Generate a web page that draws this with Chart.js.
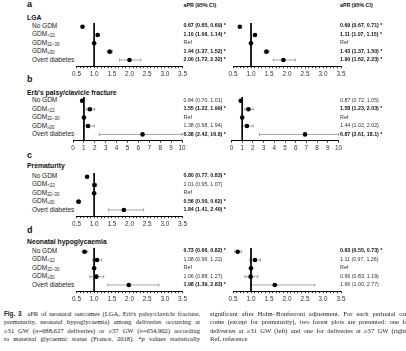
<!DOCTYPE html>
<html>
<head>
<meta charset="utf-8">
<script src="https://cdn.jsdelivr.net/npm/chart.js@4.4.0/dist/chart.umd.min.js"></script>
<style>
  html, body { margin: 0; padding: 0; background: #fff; }
  #fig { position: relative; width: 406px; height: 351px; overflow: hidden; font-family: 'Liberation Sans', Arial, sans-serif; color: #111; }
  .t { position: absolute; white-space: nowrap; }
  canvas { position: absolute; }
  sub { font-size: 0.68em; vertical-align: -0.3em; line-height: 0; }
  .cap { position: absolute; font-family: 'Liberation Serif', 'Times New Roman', serif; font-size: 6.6px; line-height: 8.5px; height: 8.5px; overflow: hidden; text-align: justify; text-align-last: justify; color: #222; }
  .cap b { font-family: 'Liberation Sans', Arial, sans-serif; font-size: 6.3px; }
</style>
</head>
<body>
<div id="fig"></div>
<script>
// row and panel labels
const rowLabels = ['No GDM', 'GDM<sub>&lt;22</sub>', 'GDM<sub>22–30</sub>', 'GDM<sub>≥30</sub>', 'Overt diabetes'];
const panelLetters = ['a', 'b', 'c', 'd'];
const outcomes = ['LGA', "Erb's palsy/clavicle fracture", 'Prematurity', 'Neonatal hypoglycaemia'];
const columnHeader = 'aPR (95% CI)';

// axis ranges and ticks
const ratioRange = [0.5, 3.5];
const ratioStep = 0.1;
const ratioLabelEvery = 0.5;
const erbRange = [0, 10];
const erbStep = 1;
const erbLabelEvery = 1;

// LGA, >=31 GW and >=37 GW
const lga31Est = [0.67, 1.10, 1.00, 1.44, 2.00];
const lga31Lo  = [0.65, 1.06, null, 1.37, 1.72];
const lga31Hi  = [0.69, 1.14, null, 1.52, 2.32];
const lga31Sig = [1, 1, 0, 1, 1];
const lga37Est = [0.69, 1.11, 1.00, 1.43, 1.90];
const lga37Lo  = [0.67, 1.07, null, 1.37, 1.62];
const lga37Hi  = [0.71, 1.15, null, 1.50, 2.23];
const lga37Sig = [1, 1, 0, 1, 1];

// Erb's palsy / clavicle fracture
const erb31Est = [0.84, 1.55, 1.00, 1.38, 6.38];
const erb31Lo  = [0.70, 1.22, null, 0.98, 2.42];
const erb31Hi  = [1.01, 1.99, null, 1.94, 16.8];
const erb31Sig = [0, 1, 0, 0, 1];
const erb37Est = [0.87, 1.58, 1.00, 1.44, 6.87];
const erb37Lo  = [0.72, 1.23, null, 1.02, 2.61];
const erb37Hi  = [1.05, 2.03, null, 2.02, 18.1];
const erb37Sig = [0, 1, 0, 0, 1];

// Prematurity (only one plot)
const pre31Est = [0.80, 1.01, 1.00, 0.56, 1.84];
const pre31Lo  = [0.77, 0.95, null, 0.50, 1.41];
const pre31Hi  = [0.83, 1.07, null, 0.62, 2.40];
const pre31Sig = [1, 0, 0, 1, 1];

// Neonatal hypoglycaemia
const hyp31Est = [0.73, 1.08, 1.00, 1.06, 1.98];
const hyp31Lo  = [0.66, 0.96, null, 0.88, 1.39];
const hyp31Hi  = [0.82, 1.22, null, 1.27, 2.83];
const hyp31Sig = [1, 0, 0, 0, 1];
const hyp37Est = [0.63, 1.11, 1.00, 0.99, 1.66];
const hyp37Lo  = [0.55, 0.97, null, 0.83, 1.00];
const hyp37Hi  = [0.73, 1.26, null, 1.19, 2.77];
const hyp37Sig = [1, 0, 0, 0, 0];

const captionLeft = [
  "<b>Fig. 3</b>&nbsp; aPR of neonatal outcomes (LGA, Erb's palsy/clavicle fracture,",
  "prematurity, neonatal hypoglycaemia) among deliveries occurring at",
  "≥31 GW (<i>n</i>=688,627 deliveries) or ≥37 GW (<i>n</i>=654,902) according",
  "to maternal glycaemic status (France, 2018). *<i>p</i> values statistically"
];
const captionRight = [
  "significant after Holm–Bonferroni adjustment. For each perinatal out-",
  "come (except for prematurity), two forest plots are presented: one for",
  "deliveries at ≥31 GW (left) and one for deliveries at ≥37 GW (right).",
  "Ref, reference"
];

// layout
const fig = document.getElementById('fig');
const FONT = "'Liberation Sans', Arial, sans-serif";
const Y_MIN = -0.45, Y_MAX = 4.75, ROW = 8.5, AXIS_H = 14;
const panelTop = [22, 96.5, 172, 247];
const letterY = [4, 79.5, 155.5, 230];
const titleY = [18.5, 93, 166.7, 242.3];

function text(x, y, html, size, bold, color) {
  const d = document.createElement('div');
  d.className = 't';
  d.style.left = x + 'px';
  d.style.top = (y - size / 2) + 'px';
  d.style.fontSize = size + 'px';
  d.style.lineHeight = size + 'px';
  d.style.fontWeight = bold ? 'bold' : 'normal';
  if (color) d.style.color = color;
  d.innerHTML = html;
  fig.appendChild(d);
}

function fmt(v) { return v >= 10 ? v.toFixed(1) : v.toFixed(2); }

const ciBars = {
  id: 'ciBars',
  beforeDatasetsDraw(chart) {
    const ds = chart.data.datasets[0];
    const { ctx } = chart;
    const x = chart.scales.x, y = chart.scales.y;
    ctx.save();
    ctx.strokeStyle = '#8c8c8c';
    ctx.lineWidth = 0.8;
    ds.lo.forEach((l, i) => {
      if (l == null) return;
      const x1 = x.getPixelForValue(Math.max(l, x.min));
      const x2 = x.getPixelForValue(Math.min(ds.hi[i], x.max));
      const yp = y.getPixelForValue(i);
      ctx.beginPath();
      ctx.moveTo(x1, yp); ctx.lineTo(x2, yp);
      ctx.moveTo(x1, yp - 1.6); ctx.lineTo(x1, yp + 1.6);
      ctx.moveTo(x2, yp - 1.6); ctx.lineTo(x2, yp + 1.6);
      ctx.stroke();
    });
    ctx.restore();
  }
};

function forest(o) {
  const B = o.T + (Y_MAX - Y_MIN) * ROW;
  const left = Math.floor(o.xL) - 12;
  const top = Math.floor(o.T) - 3;
  const w = Math.ceil(o.xR) + 12 - left;
  const h = Math.ceil(B) + AXIS_H + 1 - top;
  const padT = o.T - top;
  const cv = document.createElement('canvas');
  cv.width = w; cv.height = h;
  cv.style.left = left + 'px'; cv.style.top = top + 'px';
  cv.style.width = w + 'px'; cv.style.height = h + 'px';
  fig.appendChild(cv);

  new Chart(cv, {
    type: 'scatter',
    data: {
      datasets: [
        {
          data: o.est.map((v, i) => ({ x: v, y: i })),
          lo: o.lo, hi: o.hi,
          pointRadius: 2.3,
          pointBackgroundColor: '#000',
          pointBorderWidth: 0,
          clip: false
        },
        {
          data: [{ x: 1, y: Y_MIN }, { x: 1, y: Y_MAX }],
          showLine: true,
          borderColor: '#000',
          borderWidth: 1,
          pointRadius: 0
        }
      ]
    },
    options: {
      responsive: false,
      animation: false,
      events: [],
      layout: {
        padding: { left: o.xL - left, right: left + w - o.xR, top: padT, bottom: h - padT - AXIS_H - (B - o.T) }
      },
      plugins: { legend: { display: false }, tooltip: { enabled: false } },
      scales: {
        x: {
          type: 'linear',
          min: o.range[0],
          max: o.range[1],
          afterFit: s => { s.height = AXIS_H; },
          border: { display: true, color: '#000', width: 1 },
          grid: { display: true, drawOnChartArea: false, drawTicks: true, tickLength: 2, color: '#000', lineWidth: 0.8 },
          ticks: {
            stepSize: o.step,
            autoSkip: false,
            maxRotation: 0,
            padding: 2,
            color: '#333',
            font: { family: FONT, size: 6.4 },
            callback: v => {
              const k = v / o.labelEvery;
              if (Math.abs(k - Math.round(k)) > 1e-6) return '';
              return o.labelEvery < 1 ? v.toFixed(1) : String(Math.round(v));
            }
          }
        },
        y: { type: 'linear', display: false, reverse: true, min: Y_MIN, max: Y_MAX }
      }
    },
    plugins: [ciBars]
  });
}

function valueColumn(x, T, est, lo, hi, sig) {
  est.forEach((v, i) => {
    const y = T + (i - Y_MIN) * ROW;
    if (lo[i] == null) { text(x, y, 'Ref', 5.4, false, '#333'); return; }
    const s = fmt(v) + ' (' + fmt(lo[i]) + ', ' + fmt(hi[i]) + ')' + (sig[i] ? ' *' : '');
    text(x, y, s, 5.3, !!sig[i], sig[i] ? '#111' : '#333');
  });
}

// header
text(183.5, 6, columnHeader, 5.3, true);
text(340, 6, columnHeader, 5.3, true);

// panel texts
panelLetters.forEach((l, p) => {
  text(27, letterY[p], l, 9, true);
  text(27, titleY[p], outcomes[p], 6.8, true);
  rowLabels.forEach((r, i) => text(32, panelTop[p] + (i - Y_MIN) * ROW, r, 6.5, false, '#222'));
});

const ratio = { range: ratioRange, step: ratioStep, labelEvery: ratioLabelEvery };
const erb = { range: erbRange, step: erbStep, labelEvery: erbLabelEvery };

// a: LGA
forest({ ...ratio, T: panelTop[0], xL: 76.5, xR: 182.5, est: lga31Est, lo: lga31Lo, hi: lga31Hi });
forest({ ...ratio, T: panelTop[0], xL: 233, xR: 341, est: lga37Est, lo: lga37Lo, hi: lga37Hi });
valueColumn(183.5, panelTop[0], lga31Est, lga31Lo, lga31Hi, lga31Sig);
valueColumn(340, panelTop[0], lga37Est, lga37Lo, lga37Hi, lga37Sig);

// b: Erb's palsy
forest({ ...erb, T: panelTop[1], xL: 73, xR: 182, est: erb31Est, lo: erb31Lo, hi: erb31Hi });
forest({ ...erb, T: panelTop[1], xL: 231.5, xR: 338.5, est: erb37Est, lo: erb37Lo, hi: erb37Hi });
valueColumn(183.5, panelTop[1], erb31Est, erb31Lo, erb31Hi, erb31Sig);
valueColumn(340, panelTop[1], erb37Est, erb37Lo, erb37Hi, erb37Sig);

// c: prematurity
forest({ ...ratio, T: panelTop[2], xL: 76.5, xR: 182.5, est: pre31Est, lo: pre31Lo, hi: pre31Hi });
valueColumn(183.5, panelTop[2], pre31Est, pre31Lo, pre31Hi, pre31Sig);

// d: hypoglycaemia
forest({ ...ratio, T: panelTop[3], xL: 76.5, xR: 182.5, est: hyp31Est, lo: hyp31Lo, hi: hyp31Hi });
forest({ ...ratio, T: panelTop[3], xL: 233, xR: 341, est: hyp37Est, lo: hyp37Lo, hi: hyp37Hi });
valueColumn(183.5, panelTop[3], hyp31Est, hyp31Lo, hyp31Hi, hyp31Sig);
valueColumn(340, panelTop[3], hyp37Est, hyp37Lo, hyp37Hi, hyp37Sig);

// caption
const capY = [314, 322.5, 331, 339.5];
captionLeft.forEach((line, i) => {
  const d = document.createElement('div');
  d.className = 'cap';
  d.style.left = '4px'; d.style.width = '196px';
  d.style.top = (capY[i] - 4.25) + 'px';
  d.innerHTML = line;
  fig.appendChild(d);
});
captionRight.forEach((line, i) => {
  const d = document.createElement('div');
  d.className = 'cap';
  d.style.left = '210px'; d.style.width = '200px';
  d.style.top = (capY[i] - 4.25) + 'px';
  if (i === captionRight.length - 1) d.style.textAlignLast = 'left';
  d.innerHTML = line;
  fig.appendChild(d);
});
</script>
</body>
</html>
